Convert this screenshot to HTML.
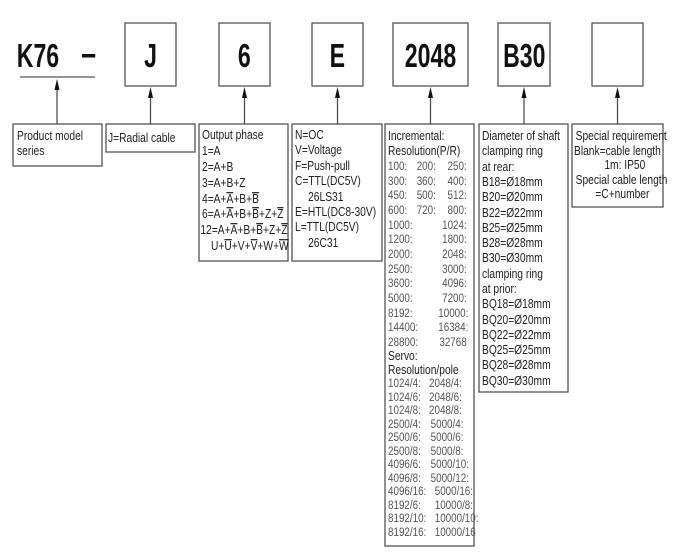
<!DOCTYPE html>
<html><head><meta charset="utf-8"><style>
html,body{margin:0;padding:0;background:#fff;}
svg{display:block;}
text{font-family:"Liberation Sans",Arial,sans-serif;}
.t{font-size:12.5px;fill:#222;}
.g{font-size:12px;fill:#555;}
.big{font-size:33px;fill:#111;font-weight:bold;}
.ov{text-decoration:overline;}
</style></head><body>
<svg width="680" height="554" viewBox="0 0 680 554" xmlns="http://www.w3.org/2000/svg">
<g fill="none" stroke="#555" stroke-width="1.3">
<rect x="125" y="23" width="51" height="63"/>
<rect x="219" y="23" width="51" height="63"/>
<rect x="312" y="23" width="51" height="63"/>
<rect x="393" y="23" width="75" height="63"/>
<rect x="498" y="23" width="52" height="63"/>
<rect x="592" y="23" width="51" height="63"/>
<line x1="20" y1="77" x2="95" y2="77"/>
<rect x="13" y="124" width="89" height="42"/>
<rect x="106" y="124" width="89" height="28"/>
<rect x="199" y="124" width="89" height="137"/>
<rect x="292" y="124" width="90" height="137"/>
<rect x="385" y="124" width="89" height="422"/>
<rect x="479" y="124" width="89" height="268"/>
<rect x="572" y="124" width="91" height="83"/>
</g>
<g stroke="#444" stroke-width="1.2">
<line x1="57" y1="88" x2="57" y2="124"/>
<line x1="150.5" y1="96" x2="150.5" y2="124"/>
<line x1="244.5" y1="96" x2="244.5" y2="124"/>
<line x1="337.5" y1="96" x2="337.5" y2="124"/>
<line x1="430.5" y1="96" x2="430.5" y2="124"/>
<line x1="524" y1="96" x2="524" y2="124"/>
<line x1="617.5" y1="96" x2="617.5" y2="124"/>
</g>
<g fill="#111">
<polygon points="57,79 54.5,90 59.5,90"/>
<polygon points="150.5,87 148,98 153,98"/>
<polygon points="244.5,87 242,98 247,98"/>
<polygon points="337.5,87 335,98 340,98"/>
<polygon points="430.5,87 428,98 433,98"/>
<polygon points="524,87 521.5,98 526.5,98"/>
<polygon points="617.5,87 615,98 620,98"/>
</g>
<g transform="scale(0.7,1)">
<text class="big" x="24" y="67">K76</text>
<rect x="117" y="54" width="19" height="3.5" fill="#111"/>
<text class="big" x="215" y="67" text-anchor="middle">J</text>
<text class="big" x="349" y="67" text-anchor="middle">6</text>
<text class="big" x="482" y="67" text-anchor="middle">E</text>
<text class="big" x="615" y="67" text-anchor="middle">2048</text>
<text class="big" x="749" y="67" text-anchor="middle">B30</text>
</g>
<g transform="translate(17,0) scale(0.82,1)">
<text class="t" x="0" y="140">Product model</text>
<text class="t" x="0" y="155">series</text>
</g>
<g transform="translate(108,0) scale(0.82,1)">
<text class="t" x="0" y="142">J=Radial cable</text>
</g>
<g transform="translate(202,0) scale(0.82,1)">
<text class="t" x="0" y="139">Output phase</text>
<text class="t" x="0" y="155">1=A</text>
<text class="t" x="0" y="171">2=A+B</text>
<text class="t" x="0" y="187">3=A+B+Z</text>
<text class="t" x="0" y="203">4=A+<tspan class="ov">A</tspan>+B+<tspan class="ov">B</tspan></text>
<text class="t" x="0" y="218">6=A+<tspan class="ov">A</tspan>+B+<tspan class="ov">B</tspan>+Z+<tspan class="ov">Z</tspan></text>
<text class="t" x="-2" y="234">12=A+<tspan class="ov">A</tspan>+B+<tspan class="ov">B</tspan>+Z+<tspan class="ov">Z</tspan></text>
<text class="t" x="11" y="250">U+<tspan class="ov">U</tspan>+V+<tspan class="ov">V</tspan>+W+<tspan class="ov">W</tspan></text>
</g>
<g transform="translate(295,0) scale(0.82,1)">
<text class="t" x="0" y="139">N=OC</text>
<text class="t" x="0" y="154">V=Voltage</text>
<text class="t" x="0" y="170">F=Push-pull</text>
<text class="t" x="0" y="185">C=TTL(DC5V)</text>
<text class="t" x="16" y="201">26LS31</text>
<text class="t" x="0" y="216">E=HTL(DC8-30V)</text>
<text class="t" x="0" y="231">L=TTL(DC5V)</text>
<text class="t" x="16" y="247">26C31</text>
</g>
<g transform="translate(388,0) scale(0.82,1)" class="g">
<text class="t" x="0" y="140">Incremental:</text>
<text class="t" x="0" y="155">Resolution(P/R)</text>
<text x="0" y="170">100:</text><text x="35" y="170">200:</text><text x="96" y="170" text-anchor="end">250:</text>
<text x="0" y="185">300:</text><text x="35" y="185">360:</text><text x="96" y="185" text-anchor="end">400:</text>
<text x="0" y="199">450:</text><text x="35" y="199">500:</text><text x="96" y="199" text-anchor="end">512:</text>
<text x="0" y="214">600:</text><text x="35" y="214">720:</text><text x="96" y="214" text-anchor="end">800:</text>
<text x="0" y="229">1000:</text><text x="96" y="229" text-anchor="end">1024:</text>
<text x="0" y="243">1200:</text><text x="96" y="243" text-anchor="end">1800:</text>
<text x="0" y="258">2000:</text><text x="96" y="258" text-anchor="end">2048:</text>
<text x="0" y="273">2500:</text><text x="96" y="273" text-anchor="end">3000:</text>
<text x="0" y="287">3600:</text><text x="96" y="287" text-anchor="end">4096:</text>
<text x="0" y="302">5000:</text><text x="96" y="302" text-anchor="end">7200:</text>
<text x="0" y="317">8192:</text><text x="98" y="317" text-anchor="end">10000:</text>
<text x="0" y="331">14400:</text><text x="98" y="331" text-anchor="end">16384:</text>
<text x="0" y="346">28800:</text><text x="96" y="346" text-anchor="end">32768</text>
<text class="t" x="0" y="360">Servo:</text>
<text class="t" x="0" y="374">Resolution/pole</text>
<text x="0" y="387">1024/4:</text><text x="50" y="387">2048/4:</text>
<text x="0" y="401">1024/6:</text><text x="50" y="401">2048/6:</text>
<text x="0" y="414">1024/8:</text><text x="50" y="414">2048/8:</text>
<text x="0" y="428">2500/4:</text><text x="52" y="428">5000/4:</text>
<text x="0" y="441">2500/6:</text><text x="52" y="441">5000/6:</text>
<text x="0" y="455">2500/8:</text><text x="52" y="455">5000/8:</text>
<text x="0" y="468">4096/6:</text><text x="52" y="468">5000/10:</text>
<text x="0" y="482">4096/8:</text><text x="52" y="482">5000/12:</text>
<text x="0" y="495">4096/16:</text><text x="57" y="495">5000/16:</text>
<text x="0" y="509">8192/6:</text><text x="57" y="509">10000/8:</text>
<text x="0" y="522">8192/10:</text><text x="57" y="522">10000/10:</text>
<text x="0" y="536">8192/16:</text><text x="57" y="536">10000/16</text>
</g>
<g transform="translate(574,0) scale(0.82,1)">
<text class="t" x="2" y="140">Special requirement</text>
<text class="t" x="0" y="155">Blank=cable length</text>
<text class="t" x="37" y="169">1m: IP50</text>
<text class="t" x="2" y="184">Special cable length</text>
<text class="t" x="26" y="198">=C+number</text>
</g>
<g transform="translate(482,0) scale(0.82,1)">
<text class="t" x="0" y="140">Diameter of shaft</text>
<text class="t" x="0" y="155">clamping ring</text>
<text class="t" x="0" y="171">at rear:</text>
<text class="t" x="0" y="186">B18=Ø18mm</text>
<text class="t" x="0" y="201">B20=Ø20mm</text>
<text class="t" x="0" y="217">B22=Ø22mm</text>
<text class="t" x="0" y="232">B25=Ø25mm</text>
<text class="t" x="0" y="247">B28=Ø28mm</text>
<text class="t" x="0" y="262">B30=Ø30mm</text>
<text class="t" x="0" y="278">clamping ring</text>
<text class="t" x="0" y="293">at prior:</text>
<text class="t" x="0" y="308">BQ18=Ø18mm</text>
<text class="t" x="0" y="324">BQ20=Ø20mm</text>
<text class="t" x="0" y="339">BQ22=Ø22mm</text>
<text class="t" x="0" y="354">BQ25=Ø25mm</text>
<text class="t" x="0" y="369">BQ28=Ø28mm</text>
<text class="t" x="0" y="385">BQ30=Ø30mm</text>
</g>
</svg>
</body></html>
